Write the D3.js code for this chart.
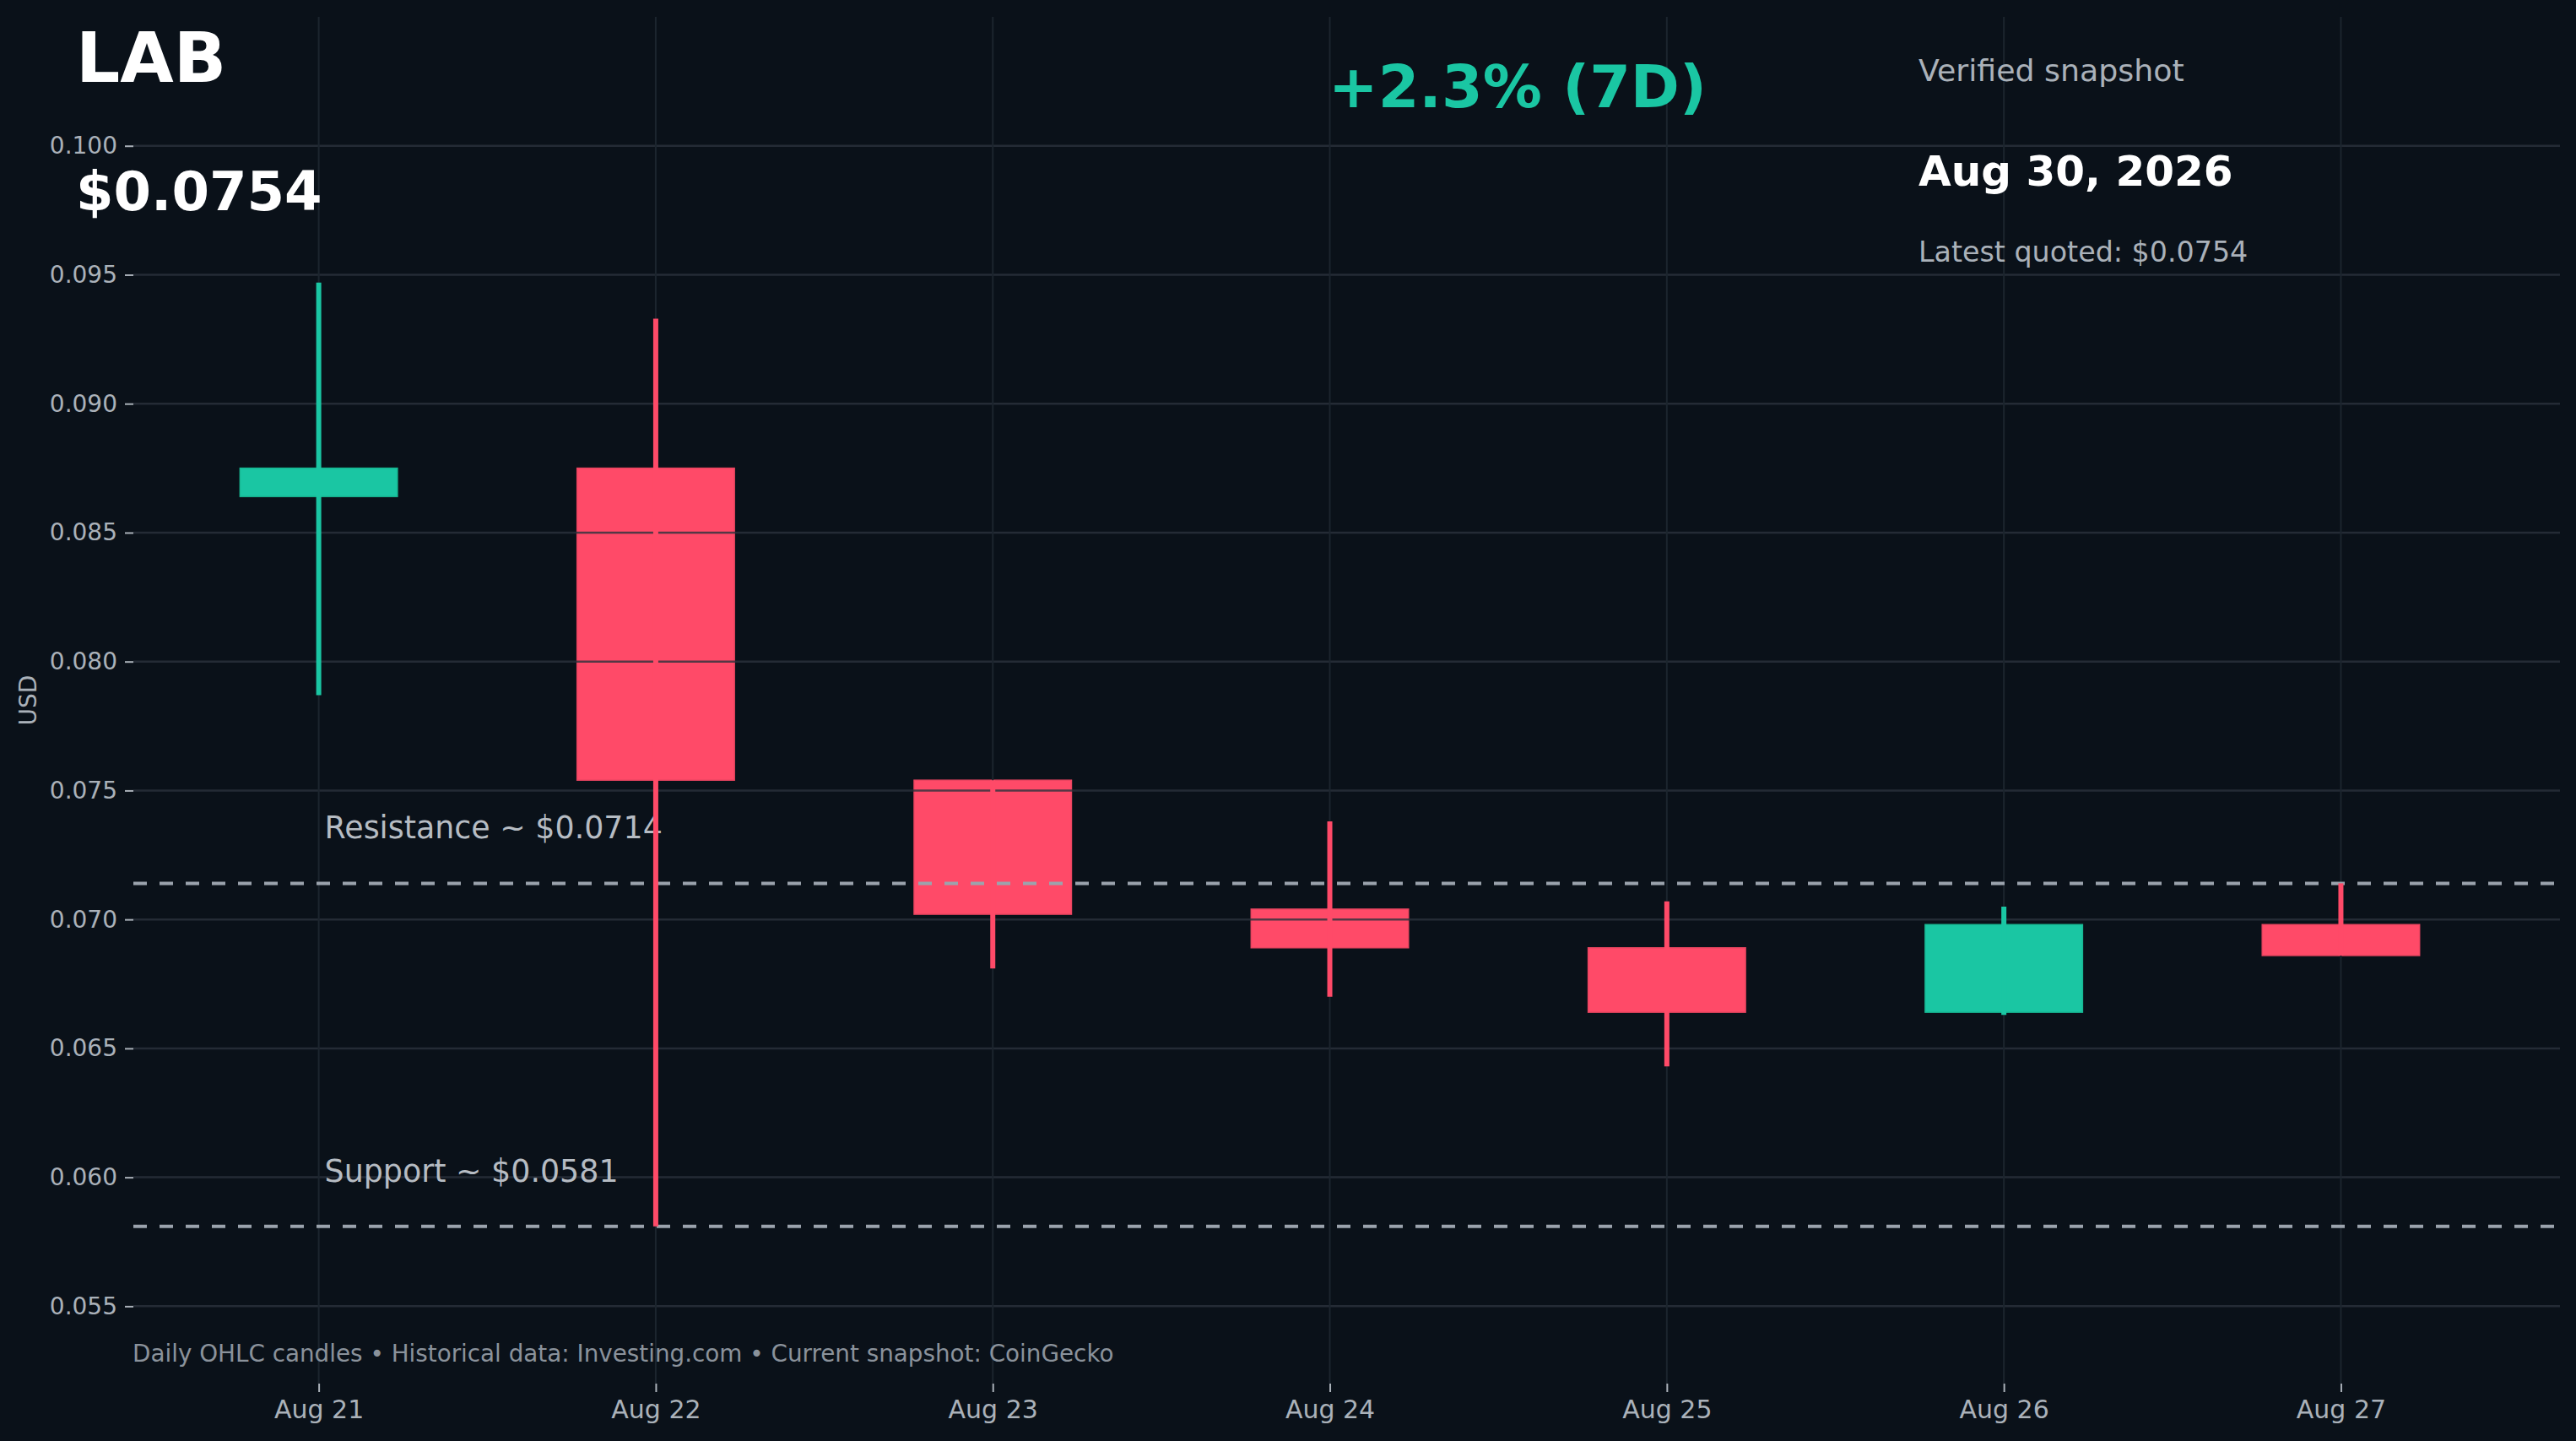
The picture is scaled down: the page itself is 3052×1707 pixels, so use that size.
<!DOCTYPE html>
<html>
<head>
<meta charset="utf-8">
<script src="https://cdn.jsdelivr.net/npm/d3@7"></script>
<style>
  body { margin: 0; background: #0a1119; }
  svg { display: block; font-family: "DejaVu Sans", sans-serif; }
</style>
</head>
<body>
<script>
//Data - daily OHLC candles
const dates  = ["Aug 21", "Aug 22", "Aug 23", "Aug 24", "Aug 25", "Aug 26", "Aug 27"];
const opens  = [0.0864, 0.0875, 0.0754, 0.0704, 0.0689, 0.0664, 0.0698];
const highs  = [0.0947, 0.0933, 0.0754, 0.0738, 0.0707, 0.0705, 0.0714];
const lows   = [0.0787, 0.0581, 0.0681, 0.0670, 0.0643, 0.0663, 0.0686];
const closes = [0.0875, 0.0754, 0.0702, 0.0689, 0.0664, 0.0698, 0.0686];
const yTicks = [0.055, 0.060, 0.065, 0.070, 0.075, 0.080, 0.085, 0.090, 0.095, 0.100];
const levelNames  = ["Resistance", "Support"];
const levelValues = [0.0714, 0.0581];
const latestPrice = 0.0754;

//Consts
const width = 3052;
const height = 1707;
const plotLeft = 158, plotRight = 3033, plotTop = 20, plotBottom = 1639;
const green = "#1ac6a3";
const red = "#ff4a68";

const candles = dates.map((d, i) => ({
    date: d, i: i, open: opens[i], high: highs[i], low: lows[i], close: closes[i]
}));

//Scales
const xScale = d3.scaleLinear()
                .domain([-0.55, 6.65])
                .range([plotLeft, plotRight]);
const yScale = d3.scaleLinear()
                .domain([0.052, 0.105])
                .range([plotBottom, plotTop]);
const bodyW = xScale(0.467) - xScale(0);

const svg = d3.select("body")
    .append("svg")
    .attr("width", width)
    .attr("height", height);

svg.append("rect").attr("width", width).attr("height", height).attr("fill", "#0a1119");

//Bodies
svg.append("g")
    .selectAll("rect")
    .data(candles)
    .join("rect")
    .attr("x", d => xScale(d.i) - bodyW / 2)
    .attr("width", bodyW)
    .attr("y", d => yScale(Math.max(d.open, d.close)))
    .attr("height", d => Math.max(1, yScale(Math.min(d.open, d.close)) - yScale(Math.max(d.open, d.close))))
    .attr("fill", d => d.close >= d.open ? green : red)
    .attr("stroke", d => d.close >= d.open ? "#17b893" : "#ea4560")
    .attr("stroke-width", 1.5);

//Grid
svg.append("g")
    .selectAll("line")
    .data(yTicks)
    .join("line")
    .attr("x1", plotLeft).attr("x2", plotRight)
    .attr("y1", d => yScale(d)).attr("y2", d => yScale(d))
    .attr("stroke", "#2a323c")
    .attr("stroke-opacity", 0.8)
    .attr("stroke-width", 2.5);

svg.append("g")
    .selectAll("line")
    .data(candles)
    .join("line")
    .attr("x1", d => xScale(d.i)).attr("x2", d => xScale(d.i))
    .attr("y1", plotTop).attr("y2", plotBottom)
    .attr("stroke", "#1c252e")
    .attr("stroke-width", 2);

//Support / resistance
svg.append("g")
    .selectAll("line")
    .data(levelValues)
    .join("line")
    .attr("x1", plotLeft).attr("x2", plotRight)
    .attr("y1", d => yScale(d)).attr("y2", d => yScale(d))
    .attr("stroke", "#9ba3ad")
    .attr("stroke-width", 4)
    .attr("stroke-dasharray", "16,15");

svg.append("g")
    .selectAll("text")
    .data(levelValues)
    .join("text")
    .attr("x", xScale(0) + 7)
    .attr("y", d => yScale(d) - 53)
    .attr("fill", "#b6bcc3")
    .attr("font-size", 36.4)
    .text((d, i) => levelNames[i] + " ~ $" + d.toFixed(4));

//Wicks
svg.append("g")
    .selectAll("line")
    .data(candles)
    .join("line")
    .attr("x1", d => xScale(d.i)).attr("x2", d => xScale(d.i))
    .attr("y1", d => yScale(d.high)).attr("y2", d => yScale(d.low))
    .attr("stroke", d => d.close >= d.open ? green : red)
    .attr("stroke-width", 6);

//Axes
const leftAxis = d3.axisLeft(yScale)
    .tickValues(yTicks)
    .tickFormat(d3.format(".3f"))
    .tickSize(10)
    .tickPadding(9);
const gy = svg.append("g")
    .attr("transform", "translate(" + plotLeft + ",0)")
    .call(leftAxis);

const bottomAxis = d3.axisBottom(xScale)
    .tickValues(d3.range(dates.length))
    .tickFormat(i => dates[i])
    .tickSize(10)
    .tickPadding(10);
const gx = svg.append("g")
    .attr("transform", "translate(0," + plotBottom + ")")
    .call(bottomAxis);

[gx, gy].forEach(g => {
    g.select(".domain").remove();
    g.selectAll(".tick line").attr("stroke", "#aab1b9").attr("stroke-width", 2);
    g.selectAll(".tick text").attr("fill", "#aab1b9").attr("font-family", "DejaVu Sans");
});
gy.selectAll(".tick text").attr("font-size", 28);
gx.selectAll(".tick text").attr("font-size", 30);

svg.append("text")
    .attr("transform", "translate(43," + ((plotTop + plotBottom) / 2) + ") rotate(-90)")
    .attr("text-anchor", "middle")
    .attr("fill", "#aab1b9")
    .attr("font-size", 28)
    .text("USD");

//Header texts
svg.append("text").attr("x", 90).attr("y", 97).attr("fill", "#ffffff")
    .attr("font-size", 82).attr("font-weight", "bold").text("LAB");
svg.append("text").attr("x", 90).attr("y", 249).attr("fill", "#ffffff")
    .attr("font-size", 64).attr("font-weight", "bold").text("$" + latestPrice.toFixed(4));
svg.append("text").attr("x", 1574).attr("y", 127).attr("fill", green)
    .attr("font-size", 70).attr("font-weight", "bold").text("+2.3% (7D)");
svg.append("text").attr("x", 2273).attr("y", 96).attr("fill", "#aab1b9")
    .attr("font-size", 36.3).text("Verified snapshot");
svg.append("text").attr("x", 2273).attr("y", 220).attr("fill", "#ffffff")
    .attr("font-size", 50).attr("font-weight", "bold").text("Aug 30, 2026");
svg.append("text").attr("x", 2273).attr("y", 310).attr("fill", "#aab1b9")
    .attr("font-size", 33.3).text("Latest quoted: $" + latestPrice.toFixed(4));

svg.append("text").attr("x", 157).attr("y", 1613).attr("fill", "#8a929b")
    .attr("font-size", 27.8)
    .text("Daily OHLC candles \u2022 Historical data: Investing.com \u2022 Current snapshot: CoinGecko");
</script>
</body>
</html>
